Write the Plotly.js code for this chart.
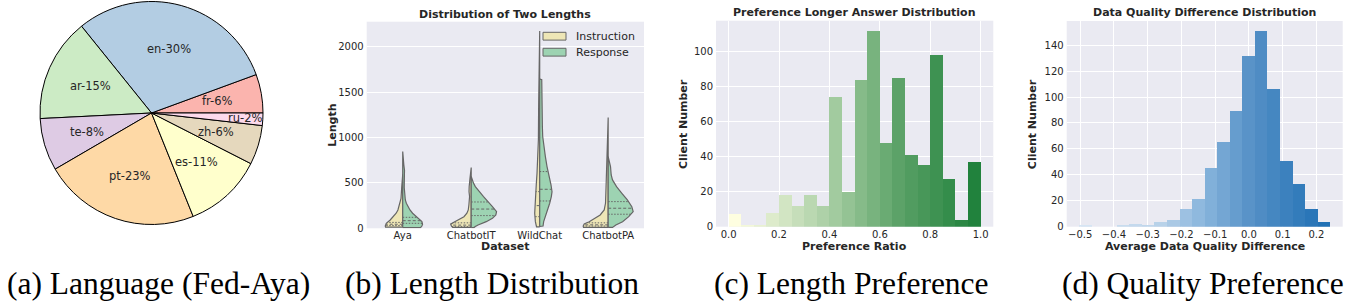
<!DOCTYPE html>
<html><head><meta charset="utf-8">
<script src="https://cdn.plot.ly/plotly-3.0.1.min.js"></script>
<style>html,body{margin:0;padding:0;background:#fff}#chart{width:1346px;height:303px}</style>
</head><body><div id="chart"></div>
<script>
// ================= DATA =================
// (a) language shares (%), counter-clockwise from 3 o'clock
const langLabels = ['fr','en','ar','te','pt','es','zh','ru'];
const langShares = [5.6, 30.2, 15.0, 7.6, 22.7, 11.4, 5.7, 1.8];

// (b) length distributions: lengths and relative half-widths (density) of each half violin
const datasets = ['Aya','ChatbotIT','WildChat','ChatbotPA'];
const ayaInstLen  = [12, 25, 55, 92, 128, 166, 202, 238, 276, 330, 450, 596];
const ayaInstDen  = [0.25, 0.255, 0.24, 0.183, 0.135, 0.096, 0.07, 0.055, 0.045, 0.025, 0.015, 0.006];
const ayaRespLen  = [8, 25, 46, 73, 99, 128, 166, 202, 238, 276, 312, 368, 450, 560, 640, 700, 846];
const ayaRespDen  = [0.26, 0.28, 0.29, 0.28, 0.24, 0.19, 0.144, 0.106, 0.077, 0.053, 0.038, 0.029, 0.022, 0.024, 0.026, 0.016, 0.008];
const itInstLen   = [10, 25, 46, 73, 99, 128, 166, 202, 257, 350, 404, 430, 458, 550, 669];
const itInstDen   = [0.27, 0.29, 0.30, 0.24, 0.17, 0.106, 0.063, 0.043, 0.034, 0.024, 0.032, 0.036, 0.03, 0.018, 0.006];
const itRespLen   = [8, 20, 36, 73, 110, 147, 183, 238, 294, 349, 404, 459, 495, 548, 570];
const itRespDen   = [0.04, 0.06, 0.10, 0.22, 0.31, 0.36, 0.37, 0.31, 0.24, 0.18, 0.12, 0.06, 0.035, 0.014, 0.006];
const wcInstLen   = [15, 25, 73, 166, 276, 386, 497, 607, 754, 975, 1380, 1700, 2173];
const wcInstDen   = [0.045, 0.049, 0.063, 0.073, 0.068, 0.058, 0.049, 0.039, 0.029, 0.019, 0.015, 0.008, 0.004];
const wcRespLen   = [20, 25, 73, 128, 202, 276, 349, 404, 478, 570, 680, 790, 901, 1011, 1122, 1416, 1637, 1645];
const wcRespDen   = [0.045, 0.049, 0.058, 0.083, 0.117, 0.146, 0.17, 0.18, 0.165, 0.136, 0.107, 0.083, 0.058, 0.044, 0.039, 0.034, 0.03, 0.004];
const paInstLen   = [10, 25, 47, 73, 110, 147, 202, 276, 386, 514, 680, 900, 1221];
const paInstDen   = [0.36, 0.365, 0.35, 0.277, 0.19, 0.117, 0.058, 0.039, 0.034, 0.03, 0.02, 0.01, 0.004];
const paRespLen   = [10, 36, 73, 128, 183, 238, 312, 386, 459, 533, 588, 680, 790];
const paRespDen   = [0.063, 0.112, 0.21, 0.30, 0.365, 0.345, 0.28, 0.20, 0.122, 0.063, 0.044, 0.034, 0.006];
// quartiles [Q1, median, Q3]
const instQuartiles = [[30, 45, 65], [18, 35, 60], [128, 250, 404], [25, 38, 60]];
const respQuartiles = [[55, 84, 121], [140, 212, 290], [301, 430, 625], [155, 221, 294]];
const lengthTicks = [0, 500, 1000, 1500, 2000];
const seriesNames = ['Instruction', 'Response'];

// (c) preference-ratio histogram
const prefBinStart = 0.0;
const prefBinWidth = 0.05;
const prefCounts = [7, 1, 1, 8, 18, 12, 18, 12, 74, 20, 84, 112, 48, 85, 41, 35, 98, 27, 4, 37];
const prefTicks = [0, 0.2, 0.4, 0.6, 0.8, 1.0];
const countTicksC = [0, 20, 40, 60, 80, 100];

// (d) quality difference histogram
const qualBinStart = -0.503;
const qualBinWidth = 0.0372;
const qualCounts = [1, 0, 0, 1, 2, 1, 4, 5, 14, 21, 45, 65, 89, 132, 151, 106, 51, 33, 14, 4];
const qualTicks = [-0.5, -0.4, -0.3, -0.2, -0.1, 0.0, 0.1, 0.2];
const countTicksD = [0, 20, 40, 60, 80, 100, 120, 140];

const captions = ['(a) Language (Fed-Aya)', '(b) Length Distribution', '(c) Length Preference', '(d) Quality Preference'];

// ================= STYLE / LAYOUT =================
const W = 1346, H = 303;
const X = p => p / W, Y = p => 1 - p / H;
const SANS = 'DejaVu Sans', SERIF = 'Liberation Serif';
const TXT = '#262626';
const pieColors = ['#fbb4ae','#b3cde3','#ccebc5','#decbe4','#fed9a6','#ffffcc','#e5d8bd','#fddaec'];
const instColor = '#eee6b6', respColor = '#9dd3b2', edge = '#666666';

function lerpColor(stops, t) {
  for (let i = 0; i < stops.length - 1; i++) {
    const [t0, c0] = stops[i], [t1, c1] = stops[i + 1];
    if (t >= t0 && t <= t1) {
      const f = (t - t0) / (t1 - t0);
      const a = [1,3,5].map(k => parseInt(c0.substr(k,2),16));
      const b = [1,3,5].map(k => parseInt(c1.substr(k,2),16));
      return 'rgb(' + a.map((v,j) => Math.round(v + (b[j]-v)*f)).join(',') + ')';
    }
  }
  return stops[stops.length-1][1];
}
const greenStops = [[0,'#fefee0'],[0.2,'#d4e6c5'],[0.42,'#a2cb9f'],[0.7,'#58a065'],[1,'#21823d']];
const blueStops  = [[0,'#d6e5f3'],[0.3,'#bcd4ea'],[0.5,'#88b5dc'],[0.7,'#5590c6'],[1,'#2171b5']];

const traces = [];
const annotations = [];
const shapes = [];

// ---- (a) pie ----
const pieCx = 151.5, pieCy = 113, pieR = 111.5;
const total = langShares.reduce((a, b) => a + b, 0);
traces.push({
  type: 'pie', values: langShares, labels: langLabels, sort: false,
  direction: 'counterclockwise', rotation: 90 - langShares[0] / total * 360, textinfo: 'none',
  marker: {colors: pieColors, line: {color: '#000', width: 1}}, showlegend: false,
  domain: {x: [X(pieCx - pieR), X(pieCx + pieR)], y: [Y(pieCy + pieR), Y(pieCy - pieR)]}
});
const labelDist = {ru: 0.84};
let acc = 0;
langLabels.forEach((lab, i) => {
  const mid = (acc + langShares[i] / 2) / total * 2 * Math.PI;
  acc += langShares[i];
  const d = (labelDist[lab] || 0.6) * pieR;
  annotations.push({
    xref: 'paper', yref: 'paper', x: X(pieCx + d * Math.cos(mid)), y: Y(pieCy - d * Math.sin(mid)),
    text: lab + '-' + Math.round(langShares[i] / total * 100) + '%', showarrow: false,
    xanchor: 'center', yanchor: 'middle', font: {family: SANS, size: 11.5, color: TXT}
  });
});

// ---- (b) split violins ----
const violinHalves = [
  [ayaInstLen, ayaInstDen, ayaRespLen, ayaRespDen],
  [itInstLen, itInstDen, itRespLen, itRespDen],
  [wcInstLen, wcInstDen, wcRespLen, wcRespDen],
  [paInstLen, paInstDen, paRespLen, paRespDen]
];
function interp(xs, ys, v) {
  if (v <= xs[0]) return ys[0];
  for (let k = 1; k < xs.length; k++) if (v <= xs[k]) {
    const f = (v - xs[k-1]) / (xs[k] - xs[k-1]); return ys[k-1] + f * (ys[k] - ys[k-1]);
  }
  return ys[ys.length - 1];
}
violinHalves.forEach((h, i) => {
  [[h[0], h[1], -1, instColor, seriesNames[0], instQuartiles[i]],
   [h[2], h[3], 1, respColor, seriesNames[1], respQuartiles[i]]].forEach(([L, D, s, col, name, q]) => {
    const xs = [i].concat(L.map((l, k) => i + s * D[k]), [i, i]);
    const ys = [L[0]].concat(L, [L[L.length - 1], L[0]]);
    traces.push({type: 'scatter', mode: 'lines', x: xs, y: ys, xaxis: 'x2', yaxis: 'y2',
      fill: 'toself', fillcolor: col, line: {color: edge, width: 1.2}, name: name,
      showlegend: false, hoverinfo: 'skip'});
    q.forEach((qv, j) => {
      const w = interp(L, D, qv);
      traces.push({type: 'scatter', mode: 'lines', x: [i, i + s * w], y: [qv, qv], xaxis: 'x2', yaxis: 'y2',
        line: {color: edge, width: 1, dash: j === 1 ? '3px,2px' : '1.5px,1.5px'}, showlegend: false, hoverinfo: 'skip'});
    });
  });
});

// ---- (c) histogram ----
traces.push({type: 'bar', xaxis: 'x3', yaxis: 'y3', showlegend: false,
  x: prefCounts.map((c, k) => prefBinStart + (k + 0.5) * prefBinWidth), y: prefCounts, width: prefBinWidth,
  marker: {color: prefCounts.map((c, k) => lerpColor(greenStops, k / (prefCounts.length - 1))), line: {width: 0}}});
// ---- (d) histogram ----
traces.push({type: 'bar', xaxis: 'x4', yaxis: 'y4', showlegend: false,
  x: qualCounts.map((c, k) => qualBinStart + (k + 0.5) * qualBinWidth), y: qualCounts, width: qualBinWidth,
  marker: {color: qualCounts.map((c, k) => lerpColor(blueStops, k / (qualCounts.length - 1))), line: {width: 0}}});

const tickFont = {family: SANS, size: 10, color: TXT};
const baseAxis = {ticks: '', zeroline: false, showline: false, tickfont: tickFont, gridcolor: '#ffffff', gridwidth: 1, fixedrange: true};

// subplot frames (px)
const B = {l: 366.7, r: 644, t: 21.7, b: 228.3};
const C = {l: 716, r: 993.3, t: 20.7, b: 226.7};
const D = {l: 1066.7, r: 1342.7, t: 21, b: 226.7};

// legend of panel (b): patches + labels
[[seriesNames[0], instColor, 36.2], [seriesNames[1], respColor, 52.2]].forEach(([name, col, yc]) => {
  shapes.push({type: 'rect', xref: 'paper', yref: 'paper', x0: X(543), x1: X(566), y0: Y(yc + 3.9), y1: Y(yc - 3.9),
    fillcolor: col, line: {color: edge, width: 1}});
  annotations.push({xref: 'paper', yref: 'paper', x: X(574), y: Y(yc), text: name, showarrow: false,
    xanchor: 'left', yanchor: 'middle', font: {family: SANS, size: 11, color: TXT}});
});

const layout = {
  width: W, height: H, margin: {l: 0, r: 0, t: 0, b: 0}, paper_bgcolor: '#ffffff', plot_bgcolor: '#eaeaf2',
  font: {family: SANS, color: TXT}, bargap: 0, showlegend: false,
  xaxis2: Object.assign({}, baseAxis, {domain: [X(B.l), X(B.r)], range: [-0.526, 3.523], anchor: 'y2',
    tickvals: [0, 1, 2, 3], ticktext: datasets, showgrid: false, ticklabelstandoff: 0}),
  yaxis2: Object.assign({}, baseAxis, {domain: [Y(B.b), Y(B.t)], range: [0, 2276], anchor: 'x2',
    tickvals: lengthTicks, ticklabelstandoff: 2}),
  xaxis3: Object.assign({}, baseAxis, {domain: [X(C.l), X(C.r)], range: [-0.05, 1.05], anchor: 'y3',
    tickvals: prefTicks, tickformat: '.1f', ticklabelstandoff: 0}),
  yaxis3: Object.assign({}, baseAxis, {domain: [Y(C.b), Y(C.t)], range: [0, 117.6], anchor: 'x3',
    tickvals: countTicksC, ticklabelstandoff: 2}),
  xaxis4: Object.assign({}, baseAxis, {domain: [X(D.l), X(D.r)], range: [-0.540, 0.278], anchor: 'y4',
    tickvals: qualTicks, tickformat: '.1f', ticklabelstandoff: 0}),
  yaxis4: Object.assign({}, baseAxis, {domain: [Y(D.b), Y(D.t)], range: [0, 158.6], anchor: 'x4',
    tickvals: countTicksD, ticklabelstandoff: 2}),
  annotations: annotations, shapes: shapes,
  hovermode: false
};

function addText(text, xpx, ypx, size, opts) {
  annotations.push(Object.assign({xref: 'paper', yref: 'paper', x: X(xpx), y: Y(ypx), text: text, showarrow: false,
    xanchor: 'center', yanchor: 'middle', font: {family: SANS, size: size, color: TXT}}, opts || {}));
}
const bold = t => '<b>' + t + '</b>';
addText(bold('Distribution of Two Lengths'), (B.l + B.r) / 2, 14, 11);
addText(bold('Preference Longer Answer Distribution'), (C.l + C.r) / 2, 13, 11);
addText(bold('Data Quality Difference Distribution'), (D.l + D.r) / 2, 13, 11);
addText(bold('Length'), 331.7, (B.t + B.b) / 2, 11, {textangle: -90});
addText(bold('Client Number'), 683.3, (C.t + C.b) / 2, 11, {textangle: -90});
addText(bold('Client Number'), 1033.3, (D.t + D.b) / 2, 11, {textangle: -90});
addText(bold('Dataset'), (B.l + B.r) / 2, 246.5, 11);
addText(bold('Preference Ratio'), (C.l + C.r) / 2, 246.5, 11);
addText(bold('Average Data Quality Difference'), (D.l + D.r) / 2, 246.5, 11);
const capX = [158, 492, 851, 1203];
captions.forEach((c, i) => addText(c, capX[i], 283, 31.5, {font: {family: SERIF, size: 31.5, color: '#000'}}));

Plotly.newPlot('chart', traces, layout, {displayModeBar: false, staticPlot: true});
</script></body></html>
